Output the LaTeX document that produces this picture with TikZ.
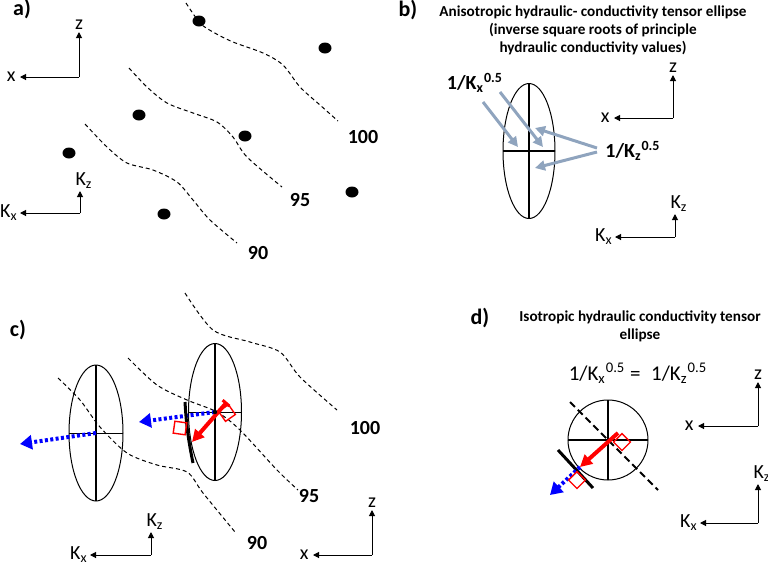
\documentclass[tikz,border=0pt]{standalone}
\usepackage{fontspec}
\setmainfont{Carlito}
\usepackage{tikz}
\usetikzlibrary{arrows.meta, positioning}

\definecolor{kgray}{RGB}{143,164,190}

\begin{document}
\begin{tikzpicture}[
    x=0.5pt, y=-0.5pt,
    panel/.style={font=\fontsize{11}{13}\selectfont\bfseries},
    ttl/.style={align=center, font=\fontsize{7.6}{9}\selectfont\bfseries},
    lbl/.style={inner sep=1pt, font=\fontsize{10}{11}\selectfont},
    num/.style={font=\fontsize{10}{11}\selectfont\bfseries},
    klab/.style={font=\fontsize{10}{11}\selectfont\bfseries},
    contour/.style={line width=0.5pt, dash pattern=on 2pt off 1.5pt},
    axis/.style={-{Triangle[length=3pt,width=3pt]}, line width=0.5pt},
    tensor/.style={line width=0.5pt},
    principal/.style={line width=1pt},
    kvec/.style={-{Triangle[length=5pt,width=5pt]}, line width=1.5pt, draw=kgray},
    flow/.style={-{Triangle[length=6pt,width=7pt]}, line width=2pt, blue, dash pattern=on 1.5pt off 1.2pt},
    grad/.style={-{Triangle[length=6pt,width=6pt]}, line width=2pt, red},
    rightangle/.style={draw=red, line width=0.7pt, minimum size=6pt, inner sep=0pt},
    tangent/.style={line width=1.5pt}
]
\useasboundingbox (0,0) rectangle (768,564);

% axis crosses (x/z and Kx/Kz)
\foreach \n/\cx/\cy/\up/\lf in {a/79/77/45/59, b/673/118/43/59, c/372/555/45/59, d/758/426/44/60}{
  \coordinate (\n z0) at (\cx,\cy);
  \coordinate (\n ztip) at (\cx,\cy-\up);
  \coordinate (\n xtip) at (\cx-\lf,\cy);
  \draw[axis] (\n z0) -- (\n ztip);
  \draw[axis] (\n z0) -- (\n xtip);
  \node[lbl, above=0pt of \n ztip] (\n zlab) {z};
  \node[lbl, left=1pt of \n xtip] (\n xlab) {x};
}
\foreach \n/\cx/\cy/\up/\lf in {a/80/213/22/60, b/675/237/23/60, c/151/555/23/61, d/758/523/39/58}{
  \coordinate (\n k0) at (\cx,\cy);
  \coordinate (\n kztip) at (\cx,\cy-\up);
  \coordinate (\n kxtip) at (\cx-\lf,\cy);
  \draw[axis] (\n k0) -- (\n kztip);
  \draw[axis] (\n k0) -- (\n kxtip);
  \node[lbl, above=0pt of \n kztip, xshift=2pt] (\n kzlab) {K\textsubscript{z}};
  \node[lbl, left=0pt of \n kxtip] (\n kxlab) {K\textsubscript{x}};
}

% a) heads and wells
\node[panel] (pa) at (22,9) {a)};
\draw[contour] plot[smooth] coordinates {(186,3) (200,23) (213,32) (233,42) (263,53) (283,65) (300,87) (320,105) (338,121)};
\draw[contour] plot[smooth] coordinates {(129,68) (147,87) (167,103) (193,113) (217,122) (233,137) (247,157) (282,187)};
\draw[contour] plot[smooth] coordinates {(85,124) (107,147) (127,163) (153,170) (177,182) (193,200) (210,220) (237,243)};
\node[num] (ah100) at (363,137) {100};
\node[num] (ah95) at (300,200) {95};
\node[num] (ah90) at (258,253) {90};
\foreach \px/\py in {199/21, 325/48, 139/115, 245/136, 69/153, 352/192, 164/214}
  \fill (\px,\py) ellipse [x radius=6.5, y radius=5.5];

% b) anisotropic ellipse
\node[panel] (pb) at (408,10) {b)};
\node[ttl] (bttl) at (593,30) {Anisotropic hydraulic- conductivity tensor ellipse\\(inverse square roots of principle\\hydraulic conductivity values)};
\draw[tensor] (529,151) ellipse [x radius=26, y radius=67.5];
\draw[principal] (529,83.5) -- (529,218.5);
\draw[principal] (503,151) -- (555,151);
\node[klab] (kxlab) at (475,83) {1/K\textsubscript{x}\textsuperscript{0.5}};
\node[klab] (kzlab) at (633,151) {1/K\textsubscript{z}\textsuperscript{0.5}};
\coordinate (kxt1) at (483,102);
\coordinate (kxt2) at (500,92);
\coordinate (kzt1) at (597,148);
\coordinate (kzt2) at (597,152);
\coordinate (kxh1) at (518,147);
\coordinate (kxh2) at (543,147);
\coordinate (kzh1) at (535,128);
\coordinate (kzh2) at (535,168);
\draw[kvec] (kxt1) -- (kxh1);
\draw[kvec] (kxt2) -- (kxh2);
\draw[kvec] (kzt1) -- (kzh1);
\draw[kvec] (kzt2) -- (kzh2);

% c) flow across heads with anisotropy
\node[panel] (pc) at (18,330) {c)};
\draw[contour] plot[smooth] coordinates {(185,293) (213,330) (250,342) (280,352) (300,377) (337,410)};
\draw[contour] plot[smooth] coordinates {(128,358) (157,385) (187,400) (217,412) (240,430) (277,470) (298,490)};
\draw[contour] plot[smooth] coordinates {(58,378) (80,400) (100,427) (127,453) (157,465) (187,472) (203,493) (235,532)};
\node[num] (ch100) at (365,428) {100};
\node[num] (ch95) at (309,496) {95};
\node[num] (ch90) at (257,543) {90};
% left ellipse
\coordinate (cl) at (96,433);
\draw[tensor] (cl) ellipse [x radius=27, y radius=68];
\draw[principal] (96,365) -- (96,501);
\draw[tensor] (69,433) -- (123,433);
\coordinate (clflow) at (20,444);
\draw[flow] (cl) -- (clflow);
% right ellipse
\coordinate (cr) at (215,412);
\draw[tensor] (cr) ellipse [x radius=26.5, y radius=68.5];
\draw[principal] (215,343.5) -- (215,480.5);
\draw[tensor] (188.5,412) -- (241.5,412);
\coordinate (crflow) at (139,422);
\draw[flow] (cr) -- (crflow);
\coordinate (ctan1) at (185,402);
\coordinate (ctan2) at (193,463);
\draw[tangent] (ctan1) to[bend right=4] (ctan2);
\coordinate (cgt) at (227,402);
\coordinate (cgh) at (192,442);
\draw[grad, {Bar[width=4.5pt,line width=1.5pt]}-{Triangle[length=6pt,width=6pt]}] (cgt) -- (cgh);
\fill (cr) circle [radius=2.2];
\node[rightangle, rotate=35] (csq1) at (227,413) {};
\node[rightangle, rotate=-8] (csq2) at (180,428) {};

% d) isotropic ellipse
\node[panel] (pd) at (480,318) {d)};
\node[ttl] (dttl) at (640,326) {Isotropic hydraulic conductivity tensor\\ellipse};
\node[lbl, font=\fontsize{10.5}{12}\selectfont] (dform) at (638,373) {1/K\textsubscript{x}\textsuperscript{0.5} =\enspace 1/K\textsubscript{z}\textsuperscript{0.5}};
\coordinate (dc) at (608,440);
\draw[tensor] (dc) circle [radius=40];
\draw[principal] (608,400) -- (608,480);
\draw[principal] (568,440) -- (648,440);
\coordinate (dh1) at (570,402);
\coordinate (dh2) at (658,490);
\draw[principal, dash pattern=on 3.5pt off 2pt] (dh1) -- (dh2);
\coordinate (dtan1) at (558,450);
\coordinate (dtan2) at (593,488);
\draw[tangent] (dtan1) -- (dtan2);
\coordinate (dgt) at (618,433);
\coordinate (dgh) at (580,467);
\coordinate (dflow) at (550,495);
\draw[flow] (dgh) -- (dflow);
\draw[grad] (dgt) -- (dgh);
\node[rightangle, rotate=45] (dsq1) at (622,442) {};
\node[rightangle, rotate=45] (dsq2) at (577,480) {};

\end{tikzpicture}
\end{document}
